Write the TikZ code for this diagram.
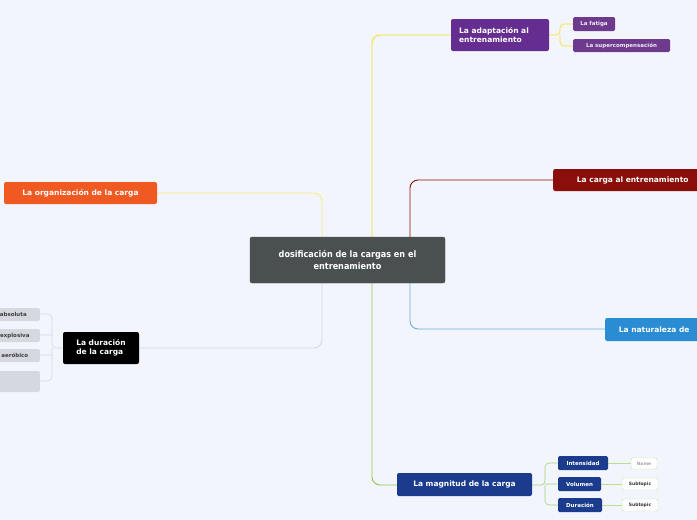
\documentclass[tikz,border=0pt]{standalone}
\usepackage{fontspec}
\setmainfont{DejaVu Sans}
\newfontfamily\condf{DejaVu Sans Condensed}
\definecolor{bg}{HTML}{F2F5FC}
\definecolor{cen}{HTML}{4A4F50}
\definecolor{pur}{HTML}{662D91}
\definecolor{purl}{HTML}{6E3A8E}
\definecolor{dred}{HTML}{8A0F0A}
\definecolor{blu}{HTML}{2A8CD2}
\definecolor{nav}{HTML}{1B3C8C}
\definecolor{ora}{HTML}{F05A22}
\definecolor{grn}{HTML}{8CC84B}
\definecolor{yel}{HTML}{F5E02A}
\definecolor{lgr}{HTML}{D5D8DE}
\begin{document}
\begin{tikzpicture}[x=1pt,y=-1pt,
 box/.style={rounded corners=2pt,inner sep=0pt,text=white,font=\bfseries\fontsize{7.5}{9}\selectfont,align=left},
 sm/.style={rounded corners=1.5pt,inner sep=0pt,font=\bfseries\fontsize{5.5}{6}\selectfont},
 ln/.style={line width=0.9pt,rounded corners=8pt}]
\fill[bg] (0,0) rectangle (697,520);
\clip (0,0) rectangle (697,520);
% connectors
\coordinate (c1) at (372,237); \coordinate (c2) at (410,237);
\coordinate (c3) at (410,283); \coordinate (c4) at (372,283);
\coordinate (c5) at (322,237); \coordinate (c6) at (322,283);
\draw[ln,yel] (c1) |- (451,35);
\draw[ln,dred] (c2) |- (553,180);
\draw[ln,blu!70] (c3) |- (605,329);
\draw[ln,grn] (c4) |- (397,485);
\draw[ln,yel!60] (c5) |- (157,193);
\draw[ln,lgr] (c6) |- (139,348);
\draw[line width=0.6pt,yel,rounded corners=4pt] (549,35) -- (560,35) |- (573,24) (560,35) |- (573,46);
\draw[line width=0.6pt,grn!80,rounded corners=4pt] (532,485) -- (545,485) |- (558,463) (545,485) |- (558,505) (545,484) -- (558,484);
\draw[line width=0.6pt,grn!60] (608,463) -- (631,463) (601,484) -- (622,484) (602,505) -- (622,505);
\draw[line width=0.6pt,lgr,rounded corners=4pt] (63,348) -- (52,348) |- (40,314) (52,348) |- (40,381) (52,335) -- (40,335) (52,355) -- (40,355);
% nodes
\node[box,fill=cen,draw=cen,minimum width=195,minimum height=46,align=center,font=\condf\bfseries\fontsize{9}{12}\selectfont] (cen) at (347.5,260) {dosificación de la cargas en el\\entrenamiento};
\node[box,fill=pur,minimum width=98,minimum height=32] (ad) at (500,35) {\hspace*{-12pt}La adaptación al\\\hspace*{-12pt}entrenamiento};
\node[sm,fill=purl,text=white!90!purl,minimum width=42,minimum height=14] (fa) at (594,24) {La fatiga};
\node[sm,fill=purl,text=white!90!purl,minimum width=97,minimum height=13] (su) at (621.5,45.5) {La supercompensación};
\node[box,fill=dred,minimum width=150,minimum height=22,anchor=west] (ca) at (553,180) {\hspace*{9pt}La carga al entrenamiento};
\node[box,fill=blu,minimum width=120,minimum height=23,anchor=west] (na) at (605,329.5) {\hspace*{8pt}La naturaleza de\hspace*{30pt}};
\node[box,fill=nav,minimum width=135,minimum height=23] (ma) at (464.5,484.5) {La magnitud de la carga};
\node[box,fill=ora,minimum width=153,minimum height=22] (or) at (80.5,193) {La organización de la carga};
\node[box,fill=black,minimum width=76,minimum height=32] (du) at (101,348) {La duración\\de la carga};
\node[sm,fill=nav,text=white,minimum width=50,minimum height=14] (in) at (583,463) {Intensidad};
\node[sm,fill=nav,text=white,minimum width=43,minimum height=14] (vo) at (579.5,484) {Volumen};
\node[sm,fill=nav,text=white,minimum width=44,minimum height=14] (dn) at (580,505) {Duración};
\node[sm,fill=white,draw=grn!50,text=gray!70,minimum width=26,minimum height=11,font=\bfseries\fontsize{4.5}{5}\selectfont] (nm) at (644,463.5) {Name};
\node[sm,fill=white,draw=grn!50,text=black!80,minimum width=36,minimum height=12,font=\bfseries\fontsize{4.5}{5}\selectfont] (s1) at (640,484) {Subtopic};
\node[sm,fill=white,draw=grn!50,text=black!80,minimum width=36,minimum height=12,font=\bfseries\fontsize{4.5}{5}\selectfont] (s2) at (640,505) {Subtopic};
\node[sm,fill=lgr,text=black!75,minimum width=50,minimum height=13,anchor=east,align=right] (g1) at (40,314.5) {absoluta\hspace*{3pt}};
\node[sm,fill=lgr,text=black!75,minimum width=50,minimum height=13,anchor=east] (g2) at (40,335.5) {\hspace*{3pt}explosiva\hspace*{3pt}};
\node[sm,fill=lgr,text=black!75,minimum width=50,minimum height=13,anchor=east] (g3) at (40,355.5) {\hspace*{3pt}aeróbico\hspace*{3pt}};
\node[sm,fill=lgr,minimum width=50,minimum height=21,anchor=east] (g4) at (40,381.5) {};
\end{tikzpicture}
\end{document}
